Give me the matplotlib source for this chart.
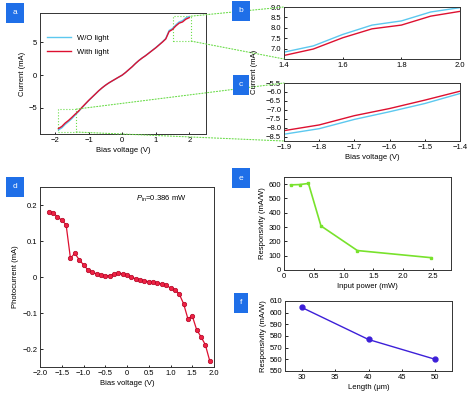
import matplotlib
matplotlib.use("Agg")
import matplotlib.pyplot as plt
from matplotlib.patches import Rectangle, ConnectionPatch

plt.rcParams['font.family'] = ['Liberation Sans', 'DejaVu Sans']
plt.rcParams['font.size'] = 5.5
plt.rcParams['mathtext.fontset'] = 'custom'
plt.rcParams['mathtext.rm'] = 'Liberation Sans'
plt.rcParams['mathtext.it'] = 'Liberation Sans:italic'
plt.rcParams['axes.linewidth'] = 0.7
plt.rcParams['axes.edgecolor'] = '#333333'
plt.rcParams['xtick.direction'] = 'in'
plt.rcParams['ytick.direction'] = 'in'
plt.rcParams['xtick.major.size'] = 1.8
plt.rcParams['ytick.major.size'] = 1.8
plt.rcParams['xtick.major.width'] = 0.6
plt.rcParams['ytick.major.width'] = 0.6
plt.rcParams['xtick.major.pad'] = 2
plt.rcParams['ytick.major.pad'] = 2

# ---- data ----
bias = [-1.9, -1.8, -1.7, -1.6, -1.5, -1.4, -1.3, -1.2, -1.1, -1.0,
        -0.9, -0.8, -0.7, -0.6, -0.5, -0.4, -0.3, -0.2, -0.1, 0.0,
        0.1, 0.2, 0.3, 0.4, 0.5, 0.6, 0.7, 0.8, 0.9, 1.0,
        1.1, 1.2, 1.3, 1.4, 1.5, 1.6, 1.7, 1.8, 1.9, 2.0]
i_dark = [-8.37, -8.06, -7.54, -7.11, -6.65, -6.09, -5.55, -5.00, -4.45, -3.90,
          -3.40, -2.90, -2.40, -1.95, -1.55, -1.20, -0.90, -0.60, -0.30, 0.00,
          0.40, 0.85, 1.30, 1.80, 2.25, 2.65, 3.00, 3.40, 3.80, 4.20,
          4.65, 5.10, 5.60, 6.83, 7.13, 7.68, 8.13, 8.33, 8.76, 8.97]
i_light = [-8.17, -7.85, -7.33, -6.93, -6.46, -5.96, -5.50, -4.93, -4.40, -3.87,
           -3.38, -2.89, -2.39, -1.95, -1.55, -1.20, -0.89, -0.59, -0.29, 0.00,
           0.40, 0.85, 1.29, 1.79, 2.24, 2.63, 2.98, 3.38, 3.78, 4.17,
           4.61, 5.05, 5.53, 6.67, 6.98, 7.52, 7.95, 8.13, 8.56, 8.79]

bias_d = [-1.8, -1.7, -1.6, -1.5, -1.4, -1.3, -1.2, -1.1, -1.0, -0.9,
          -0.8, -0.7, -0.6, -0.5, -0.4, -0.3, -0.2, -0.1, 0.0, 0.1,
          0.2, 0.3, 0.4, 0.5, 0.6, 0.7, 0.8, 0.9, 1.0, 1.1,
          1.2, 1.3, 1.4, 1.5, 1.6, 1.7, 1.8, 1.9]
photocurrent = [0.181, 0.179, 0.167, 0.158, 0.145, 0.052, 0.066, 0.048, 0.034, 0.020,
                0.013, 0.009, 0.005, 0.003, 0.004, 0.007, 0.010, 0.009, 0.005, 0.000,
                -0.005, -0.008, -0.011, -0.013, -0.015, -0.017, -0.019, -0.022, -0.031, -0.035,
                -0.047, -0.074, -0.116, -0.108, -0.146, -0.166, -0.188, -0.232]

power = [0.11, 0.26, 0.41, 0.62, 1.23, 2.47]
resp_power = [595, 597, 605, 308, 136, 86]

length = [30, 40, 50]
resp_length = [604.5, 577, 560]

cyan = '#5cc8ef'
red = '#dd1030'
green = '#78e22c'
violet = '#3c1fd8'
zoomc = '#6bdc4a'
tagc = '#1f6fe8'

W, H = 474, 394
fig = plt.figure(figsize=(W / 100, H / 100), dpi=100)


def box(l, t, r, b):
    return [l / W, 1 - b / H, (r - l) / W, (b - t) / H]


def tag(x, y, s):
    fig.text(x / W, 1 - y / H, s, color='white', ha='center', va='center', fontsize=6,
             bbox=dict(boxstyle='square,pad=0.75', fc=tagc, ec='none'))


# ---- a ----
ax_a = fig.add_axes(box(40, 13, 206, 134))
ax_a.plot(bias, i_dark, color=cyan, lw=1.0, label='W/O light')
ax_a.plot(bias, i_light, color=red, lw=1.0, label='With light')
ax_a.set_xlim(-2.45, 2.5)
ax_a.set_ylim(-9.0, 9.5)
ax_a.set_xticks([-2, -1, 0, 1, 2])
ax_a.set_yticks([-5, 0, 5])
ax_a.set_xlabel('Bias voltage (V)', labelpad=2)
ax_a.set_ylabel('Current (mA)', labelpad=2)
ax_a.legend(loc='upper left', bbox_to_anchor=(0.0, 0.88), frameon=False,
            handlelength=3.2, handletextpad=0.8, labelspacing=0.9, fontsize=5.5)
up = Rectangle((1.51, 5.2), 0.55, 3.82, fill=False, ec=zoomc, ls=':', lw=0.8)
lo = Rectangle((-1.91, -8.7), 0.54, 3.5, fill=False, ec=zoomc, ls=':', lw=0.8)
ax_a.add_patch(up)
ax_a.add_patch(lo)

# ---- b ----
ax_b = fig.add_axes(box(284, 7, 460, 59))
ax_b.plot(bias, i_dark, color=cyan, lw=1.0)
ax_b.plot(bias, i_light, color=red, lw=1.0)
ax_b.set_xlim(1.4, 2.0)
ax_b.set_ylim(6.5, 9.0)
ax_b.set_xticks([1.4, 1.6, 1.8, 2.0])
ax_b.set_yticks([7.0, 7.5, 8.0, 8.5, 9.0])
ax_b.xaxis.set_major_formatter('{x:.1f}')
ax_b.yaxis.set_major_formatter('{x:.1f}')

# ---- c ----
ax_c = fig.add_axes(box(284, 83, 460, 141))
ax_c.plot(bias, i_dark, color=cyan, lw=1.0)
ax_c.plot(bias, i_light, color=red, lw=1.0)
ax_c.set_xlim(-1.9, -1.4)
ax_c.set_ylim(-8.75, -5.5)
ax_c.set_xticks([-1.9, -1.8, -1.7, -1.6, -1.5, -1.4])
ax_c.set_yticks([-8.5, -8.0, -7.5, -7.0, -6.5, -6.0, -5.5])
ax_c.xaxis.set_major_formatter('{x:.1f}')
ax_c.yaxis.set_major_formatter('{x:.1f}')
ax_c.set_xlabel('Bias voltage (V)', labelpad=2)
fig.text(254 / W, 1 - 72 / H, 'Current (mA)', rotation=90, ha='center', va='center')

# zoom connectors
for xy, ax_to, corner in [((2.06, 9.02), ax_b, (0, 1)), ((2.06, 5.2), ax_b, (0, 0)),
                          ((-1.37, -5.2), ax_c, (0, 1)), ((-1.37, -8.7), ax_c, (0, 0))]:
    cp = ConnectionPatch(xyA=xy, coordsA='data', axesA=ax_a,
                         xyB=corner, coordsB='axes fraction', axesB=ax_to,
                         color=zoomc, lw=0.8, ls=':')
    fig.add_artist(cp)

# ---- d ----
ax_d = fig.add_axes(box(40, 187, 214, 367))
ax_d.plot(bias_d, photocurrent, color=red, lw=0.9, marker='o', ms=3.2,
          mfc='#ee2244', mec='#b00020', mew=0.5)
ax_d.set_xlim(-2.0, 2.0)
ax_d.set_ylim(-0.25, 0.25)
ax_d.set_xticks([-2.0, -1.5, -1.0, -0.5, 0, 0.5, 1.0, 1.5, 2.0])
ax_d.set_xticklabels(['\u22122.0', '\u22121.5', '\u22121.0', '\u22120.5', '0',
                      '0.5', '1.0', '1.5', '2.0'])
ax_d.set_yticks([-0.2, -0.1, 0, 0.1, 0.2])
ax_d.set_yticklabels(['\u22120.2', '\u22120.1', '0', '0.1', '0.2'])
ax_d.set_xlabel('Bias voltage (V)', labelpad=2)
ax_d.set_ylabel('Photocurrent (mA)', labelpad=2)
ax_d.text(0.7, 0.935, r'$P_{\rm in}$=0.386 mW', transform=ax_d.transAxes,
          ha='center', va='center')

# ---- e ----
ax_e = fig.add_axes(box(284, 177, 451, 270))
ax_e.plot(power, resp_power, color=green, lw=1.2, marker='s', ms=1.8, mec=green)
ax_e.set_xlim(0, 2.8)
ax_e.set_ylim(0, 650)
ax_e.set_xticks([0, 0.5, 1.0, 1.5, 2.0, 2.5])
ax_e.set_xticklabels(['0', '0.5', '1.0', '1.5', '2.0', '2.5'])
ax_e.set_yticks([0, 100, 200, 300, 400, 500, 600])
ax_e.set_xlabel('Input power (mW)', labelpad=2)
ax_e.set_ylabel('Responsivity (mA/W)', labelpad=2)

# ---- f ----
ax_f = fig.add_axes(box(285, 301, 452, 371))
ax_f.plot(length, resp_length, color=violet, lw=1.0, marker='o', ms=3.5)
ax_f.set_xlim(27.5, 52.5)
ax_f.set_ylim(550, 610)
ax_f.set_xticks([30, 35, 40, 45, 50])
ax_f.set_yticks([550, 560, 570, 580, 590, 600, 610])
ax_f.set_xlabel('Length (\u03bcm)', labelpad=2)
ax_f.set_ylabel('Responsivity (mA/W)', labelpad=2)

tag(15, 13, 'a')
tag(241, 11, 'b')
tag(241, 85, 'c')
tag(15, 187, 'd')
tag(241, 178, 'e')
tag(241, 303, 'f')

fig.savefig('out.png', dpi=100)
